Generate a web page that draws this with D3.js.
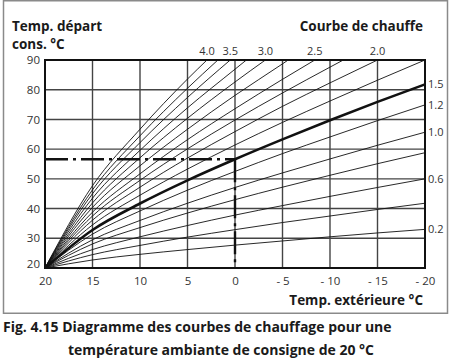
<!DOCTYPE html>
<html>
<head>
<meta charset="utf-8">
<script src="https://cdnjs.cloudflare.com/ajax/libs/d3/7.8.5/d3.min.js"></script>
<style>
  body { margin: 0; background: #fff; }
  svg text { font-family: "Open Sans", sans-serif; }
  .bold { font-weight: 700; fill: #1a1a1a; }
  .tick { font-size: 11.5px; fill: #333; }
  .lbl { font-size: 11px; fill: #333; }
</style>
</head>
<body>
<svg id="chart"></svg>
<script>
// heating curves: [outside temp, flow temp]
var curve40 = [[20,20],[15,47.7],[10,66.7],[5,83.6],[2.95,90]]
var curve375 = [[20,20],[15,46.3],[10,64.5],[5,80.5],[1.8,90]]
var curve35 = [[20,20],[15,45],[10,62.2],[5,77.4],[0.5,90]]
var curve325 = [[20,20],[15,43.5],[10,59.6],[5,73.9],[0,86.9],[-1.2,90]]
var curve30 = [[20,20],[15,41.9],[10,57.1],[5,70.4],[0,82.6],[-3.2,90]]
var curve275 = [[20,20],[15,40.4],[10,54.4],[5,66.7],[0,78.1],[-5,88.7],[-5.6,90]]
var curve25 = [[20,20],[15,38.8],[10,51.7],[5,63.2],[0,73.6],[-5,83.5],[-8.4,90]]
var curve225 = [[20,20],[15,37.5],[10,49.5],[5,60.1],[0,69.8],[-5,78.9],[-10,87.6],[-11.4,90]]
var curve20 = [[20,20],[15,36.1],[10,47.2],[5,57],[0,65.9],[-5,74.4],[-10,82.3],[-15,90]]
var curve17 = [[20,20],[15,34.5],[10,44.5],[5,53.3],[0,61.4],[-5,69],[-10,76.2],[-15,83.2],[-20,90]]
var curve15 = [[20,20],[15,32.8],[10,41.7],[5,49.5],[0,56.6],[-5,63.3],[-10,69.7],[-15,75.9],[-20,81.8]]
var curve12 = [[20,20],[15,31.4],[10,39.2],[5,46.2],[0,52.5],[-5,58.5],[-10,64.1],[-15,69.6],[-20,74.9]]
var curve10 = [[20,20],[15,29.5],[10,36],[5,41.8],[0,47.1],[-5,52],[-10,56.7],[-15,61.3],[-20,65.7]]
var curve08 = [[20,20],[15,28.1],[10,33.6],[5,38.5],[0,43],[-5,47.2],[-10,51.2],[-15,55.1],[-20,58.8]]
var curve06 = [[20,20],[15,26.2],[10,30.5],[5,34.3],[0,37.8],[-5,41],[-10,44.1],[-15,47.1],[-20,50]]
var curve04 = [[20,20],[15,24.5],[10,27.6],[5,30.4],[0,32.9],[-5,35.3],[-10,37.5],[-15,39.7],[-20,41.8]]
var curve02 = [[20,20],[15,22.7],[10,24.6],[5,26.2],[0,27.7],[-5,29.1],[-10,30.5],[-15,31.8],[-20,33]]

var thinCurves = [curve40, curve375, curve35, curve325, curve30, curve275, curve25, curve225, curve20, curve17,
    curve12, curve10, curve08, curve06, curve04, curve02]
var boldCurve = curve15

var xTicks = [20, 15, 10, 5, 0, -5, -10, -15, -20]
var yTicks = [20, 30, 40, 50, 60, 70, 80, 90]
var topLabels = ["4.0", "3.5", "3.0", "2.5", "2.0"]
var topLabelCurves = [curve40, curve35, curve30, curve25, curve20]
var rightLabels = ["1.5", "1.2", "1.0", "0.6", "0.2"]
var rightLabelCurves = [curve15, curve12, curve10, curve06, curve02]

// set point: outside 0 °C -> flow 56.6 °C
var setOut = 0, setFlow = 56.6

var width = 453, height = 361
var pLeft = 45, pRight = 425, pTop = 60, pBottom = 268

var svg = d3.select("#chart")
    .attr("width", width)
    .attr("height", height)

var x = d3.scaleLinear().domain([20, -20]).range([pLeft, pRight])
var y = d3.scaleLinear().domain([20, 90]).range([pBottom, pTop])

// outer frame
svg.append("rect")
    .attr("x", 3.5).attr("y", 0.75)
    .attr("width", 444).attr("height", 312.5)
    .attr("fill", "none").attr("stroke", "#8a8a8a").attr("stroke-width", 1.5)

// grid
svg.append("g").selectAll("line")
    .data(xTicks)
    .enter().append("line")
    .attr("x1", function(d){ return x(d) }).attr("x2", function(d){ return x(d) })
    .attr("y1", pTop).attr("y2", pBottom)
    .attr("stroke", "#444").attr("stroke-width", 1.4)

svg.append("g").selectAll("line")
    .data(yTicks)
    .enter().append("line")
    .attr("x1", pLeft).attr("x2", pRight)
    .attr("y1", function(d){ return y(d) }).attr("y2", function(d){ return y(d) })
    .attr("stroke", "#444").attr("stroke-width", 1.4)

// curves
var line = d3.line()
    .x(function(d){ return x(d[0]) })
    .y(function(d){ return y(d[1]) })
    .curve(d3.curveMonotoneX)

svg.append("g").selectAll("path")
    .data(thinCurves)
    .enter().append("path")
    .attr("d", line)
    .attr("fill", "none").attr("stroke", "#111").attr("stroke-width", 0.9)

svg.append("path")
    .attr("d", line(boldCurve))
    .attr("fill", "none").attr("stroke", "#111").attr("stroke-width", 2.6)

// set point dash-dot
svg.append("line")
    .attr("x1", x(20)).attr("x2", x(setOut))
    .attr("y1", y(setFlow)).attr("y2", y(setFlow))
    .attr("stroke", "#111").attr("stroke-width", 2.6)
    .attr("stroke-dasharray", "23,5,3,5")
svg.append("line")
    .attr("x1", x(setOut)).attr("x2", x(setOut))
    .attr("y1", y(setFlow)).attr("y2", pBottom)
    .attr("stroke", "#111").attr("stroke-width", 2.4)
    .attr("stroke-dasharray", "23,5,3,5")

// plot frame
svg.append("rect")
    .attr("x", pLeft).attr("y", pTop)
    .attr("width", pRight - pLeft).attr("height", pBottom - pTop)
    .attr("fill", "none").attr("stroke", "#111").attr("stroke-width", 2)

// axes
var xAxis = d3.axisBottom(x).tickValues(xTicks).tickSize(0).tickPadding(9)
    .tickFormat(function(d){ return d < 0 ? "- " + Math.abs(d) : d })
var gx = svg.append("g").attr("transform", "translate(0," + pBottom + ")").call(xAxis)
gx.select(".domain").remove()
gx.selectAll("text").attr("class", "tick").attr("fill", null)

var yAxis = d3.axisLeft(y).tickValues(yTicks).tickSize(0).tickPadding(5)
var gy = svg.append("g").attr("transform", "translate(" + pLeft + ",0)").call(yAxis)
gy.select(".domain").remove()
gy.selectAll("text").attr("class", "tick").attr("fill", null)
gy.selectAll(".tick").filter(function(d){ return d == 20 }).select("text").attr("dy", "-0.05em")

// curve labels
svg.append("g").selectAll("text")
    .data(topLabels)
    .enter().append("text")
    .attr("class", "lbl")
    .attr("x", function(d, i){ var c = topLabelCurves[i]; return x(c[c.length-1][0]) })
    .attr("y", pTop - 5)
    .attr("text-anchor", "middle")
    .text(function(d){ return d })

svg.append("g").selectAll("text")
    .data(rightLabels)
    .enter().append("text")
    .attr("class", "lbl")
    .attr("x", pRight + 3)
    .attr("y", function(d, i){ var c = rightLabelCurves[i]; return y(c[c.length-1][1]) })
    .attr("dy", "0.35em")
    .text(function(d){ return d })

// titles
svg.append("text").attr("class", "bold").attr("x", 12).attr("y", 31).attr("font-size", 13.5).text("Temp. départ")
svg.append("text").attr("class", "bold").attr("x", 12).attr("y", 49).attr("font-size", 13.5).text("cons. °C")
svg.append("text").attr("class", "bold").attr("x", 423).attr("y", 31).attr("font-size", 13.5).attr("text-anchor", "end").text("Courbe de chauffe")
svg.append("text").attr("class", "bold").attr("x", 423).attr("y", 305).attr("font-size", 13.5).attr("text-anchor", "end").text("Temp. extérieure °C")

svg.append("text").attr("class", "bold").attr("x", 3).attr("y", 332).attr("font-size", 14).text("Fig. 4.15 Diagramme des courbes de chauffage pour une")
svg.append("text").attr("class", "bold").attr("x", 68).attr("y", 355).attr("font-size", 14).text("température ambiante de consigne de 20 °C")
</script>
</body>
</html>
